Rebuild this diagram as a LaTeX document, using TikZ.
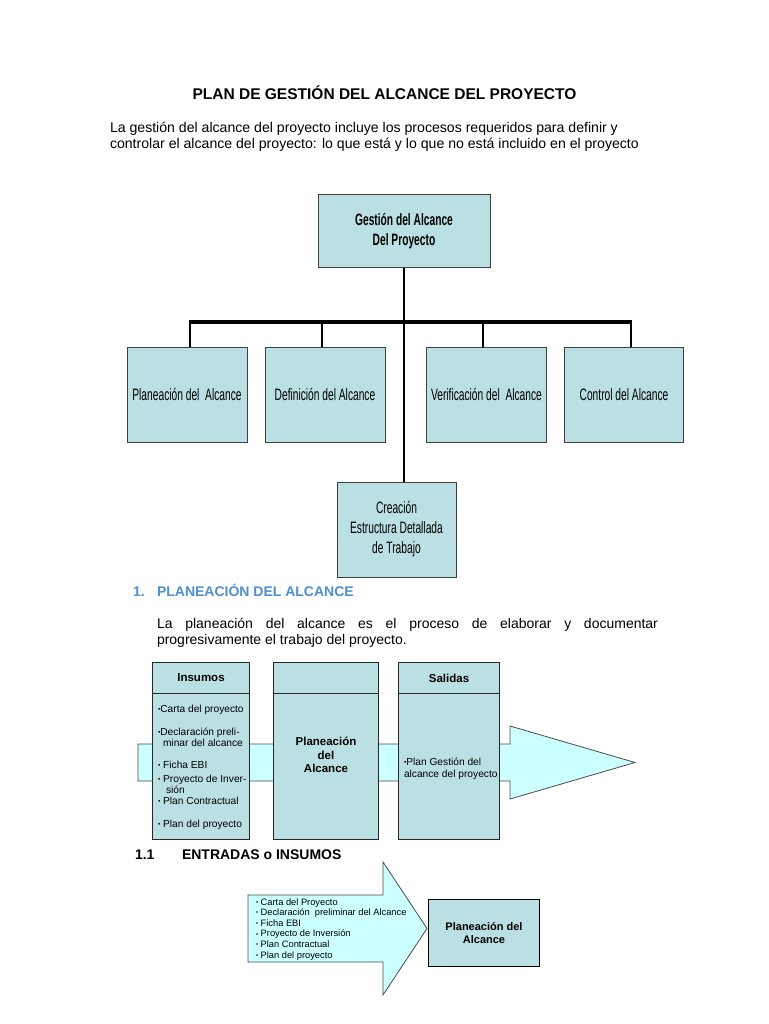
\documentclass[tikz,border=0pt]{standalone}
\usepackage{fontspec}
\setmainfont{Liberation Sans}
\newfontfamily\narrowfont[FakeStretch=0.62]{Liberation Sans}
\definecolor{boxfill}{RGB}{187,224,227}
\definecolor{arrowfill}{RGB}{204,255,255}
\definecolor{headblue}{RGB}{79,143,208}
\newcommand{\fsz}[2]{\fontsize{#1}{#2}\selectfont}
\newcommand{\mybul}{\raisebox{0.15ex}{\scalebox{0.65}{•}}}
\begin{document}
\begin{tikzpicture}[x=1pt,y=-1pt,
  chartbox/.style={draw=black!75,line width=1pt,fill=boxfill,inner sep=0pt,align=center,font=\narrowfont\fsz{16.5}{20}},
  conn/.style={line width=2pt,black},
  barline/.style={line width=4.5pt,black},
  colbox/.style={draw=black!85,line width=1pt,fill=boxfill,inner sep=0pt,anchor=north west},
  arrowshape/.style={draw=black!70,line width=0.8pt,fill=arrowfill},
  plain/.style={inner sep=0pt,outer sep=0pt},
]
\useasboundingbox (0,0) rectangle (768,1024);

% ---- title and intro
\node[plain,anchor=base,font=\bfseries\fsz{15.5}{18}] (title) at (384.5,99.6) {PLAN DE GESTIÓN DEL ALCANCE DEL PROYECTO};
\node[plain,anchor=base west,align=left,font=\fsz{14.1}{16}] (intro) at (110,148.6) {La gestión del alcance del proyecto incluye los procesos requeridos para definir y\\controlar el alcance del proyecto: lo que está y lo que no está incluido en el proyecto};

% ---- org chart
\node[chartbox,minimum width=172,minimum height=72,font=\narrowfont\bfseries\fsz{16.5}{20}] (top) at (404,231) {Gestión del Alcance\\Del Proyecto};
\node[chartbox,minimum width=120,minimum height=95] (p1) at (187,394.5) {Planeación del\ \ Alcance};
\node[chartbox,minimum width=120,minimum height=95] (p2) at (325,394.5) {Definición del Alcance};
\node[chartbox,minimum width=120,minimum height=95] (p3) at (486.5,394.5) {Verificación del\ \ Alcance};
\node[chartbox,minimum width=119,minimum height=95] (p4) at (624,394.5) {Control del Alcance};
\node[chartbox,minimum width=119,minimum height=95] (c5) at (396.5,529.5) {Creación\\Estructura Detallada\\de Trabajo};

\coordinate (barL) at (190,322);
\coordinate (v2) at (322,322);
\coordinate (v3) at (483,322);
\coordinate (barR) at (631,322);
\draw[conn] (top.south) -- (top.south |- c5.north);
\draw[barline] ([xshift=-1pt]barL) -- ([xshift=1pt]barR);
\draw[conn] (barL) -- (barL |- p1.north);
\draw[conn] (v2) -- (v2 |- p2.north);
\draw[conn] (v3) -- (v3 |- p3.north);
\draw[conn] (barR) -- (barR |- p4.north);

% ---- section 1
\node[plain,anchor=base west,font=\bfseries\fsz{14}{16},text=headblue] (h1num) at (133,596.6) {1.};
\node[plain,anchor=base west,font=\bfseries\fsz{14}{16},text=headblue] (h1) at (157,596.6) {PLANEACIÓN DEL ALCANCE};
\node[plain,anchor=base west,text width=501,align=justify,font=\fsz{14}{16}] (para) at (157,628.6) {\hyphenpenalty=10000 La planeación del alcance es el proceso de elaborar y documentar \mbox{progresivamente} el trabajo del proyecto.};

% ---- flow diagram
\draw[arrowshape] (138,744) -- (510,744) -- (510,726) -- (635,762.5) -- (510,799) -- (510,781) -- (138,781) -- cycle;
\node[colbox,minimum width=97,minimum height=31,font=\bfseries\fsz{11.5}{13}] (insH) at (152,662) {Insumos};
\node[colbox,minimum width=97,minimum height=146] (insB) at (152,693) {};
\node[colbox,minimum width=105,minimum height=31] (midH) at (273,662) {};
\node[colbox,minimum width=105,minimum height=146] (midB) at (273,693) {};
\node[colbox,minimum width=101,minimum height=31,font=\bfseries\fsz{11.5}{13}] (salH) at (398,662) {Salidas};
\node[colbox,minimum width=101,minimum height=146] (salB) at (398,693) {};

\node[plain,anchor=base west,align=left,font=\fsz{10.2}{11}] (insT) at (158,827.3) {\mybul Carta del proyecto\\[12pt]
\mybul Declaración preli-\\\hspace*{5pt}minar del alcance\\[11pt]
\mybul\ Ficha EBI\\[3pt]
\mybul\ Proyecto de Inver-\\\hspace*{8pt}sión\\
\mybul\ Plan Contractual\\[12pt]
\mybul\ Plan del proyecto};
\node[plain,align=center,font=\bfseries\fsz{11.5}{13.5}] (midT) at (326,755) {Planeación\\del\\Alcance};
\node[plain,anchor=base west,align=left,font=\fsz{10.2}{12}] (salT) at (404,777) {\mybul Plan Gestión del\\alcance del proyecto};

% ---- section 1.1
\node[plain,anchor=base west,font=\bfseries\fsz{14}{16}] (h2num) at (135,859.6) {1.1};
\node[plain,anchor=base west,font=\bfseries\fsz{14}{16}] (h2) at (182,859.6) {ENTRADAS o INSUMOS};

\draw[arrowshape] (248,895) -- (383,895) -- (383,862) -- (427,928.5) -- (383,995) -- (383,962) -- (248,962) -- cycle;
\node[plain,anchor=base west,align=left,font=\fsz{9.3}{10.6}] (arrT) at (256,958) {\mybul\ Carta del Proyecto\\
\mybul\ Declaración\ \ preliminar del Alcance\\
\mybul\ Ficha EBI\\
\mybul\ Proyecto de Inversión\\
\mybul\ Plan Contractual\\
\mybul\ Plan del proyecto};
\node[colbox,draw=black,minimum width=111,minimum height=67,font=\bfseries\fsz{11}{12.5},align=center] (pb) at (428,899) {Planeación del\\Alcance};
\end{tikzpicture}
\end{document}
